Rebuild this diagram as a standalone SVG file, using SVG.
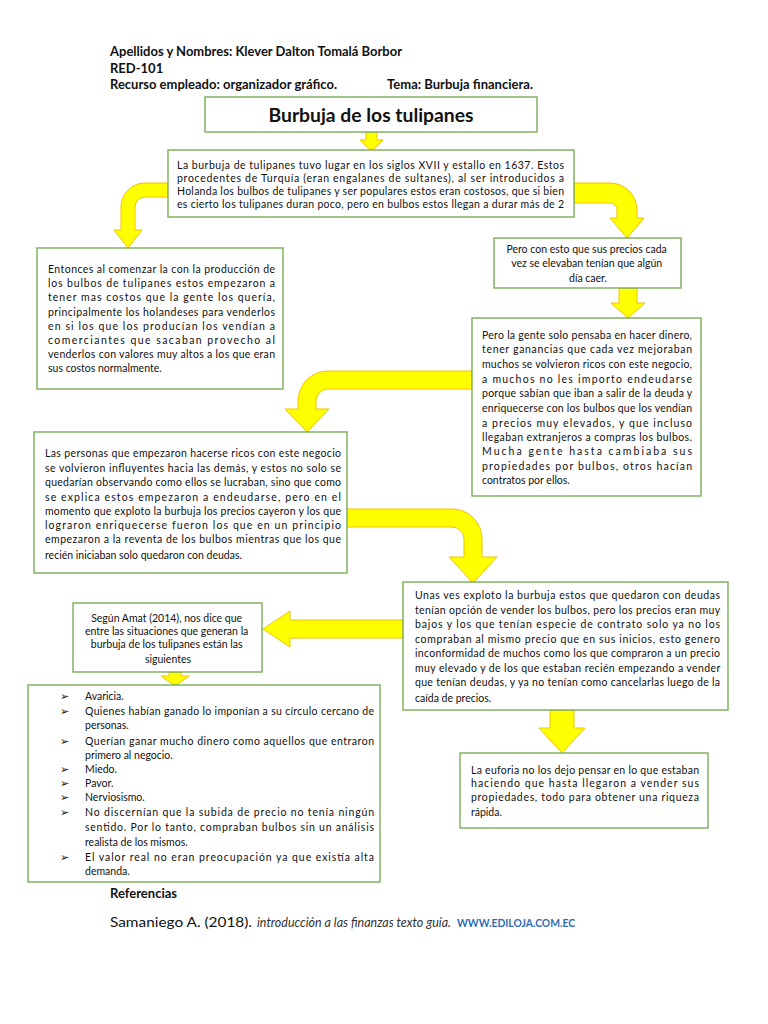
<svg xmlns="http://www.w3.org/2000/svg" width="768" height="1024" viewBox="0 0 768 1024">
<style>
.box{fill:#fff;stroke:#78AD55;stroke-width:1.4}
.arr{fill:#FFFF00;stroke:#F2C200;stroke-width:1}
.t{font-family:Lato,"Open Sans","Liberation Sans",sans-serif;font-size:10.5px;fill:#111}
.c{text-anchor:middle}
.h{font-family:Lato,"Open Sans","Liberation Sans",sans-serif;font-size:13px;font-weight:bold;fill:#111}
</style>
<rect width="768" height="1024" fill="#fff"/>

<g id="header">
<text class="h" x="110" y="56" textLength="292" lengthAdjust="spacingAndGlyphs">Apellidos y Nombres: Klever Dalton Tomalá Borbor</text>
<text class="h" x="110" y="73">RED-101</text>
<text class="h" x="110" y="89" textLength="227" lengthAdjust="spacingAndGlyphs">Recurso empleado: organizador gráfico.</text>
<text class="h" x="387" y="89" textLength="146" lengthAdjust="spacingAndGlyphs">Tema: Burbuja financiera.</text>
</g>

<g id="connectors">
<path class="arr" d="M366,132 L377,132 L377,140 L383,140 L371.5,151 L360,140 L366,140 Z"/>
<path class="arr" d="M168,183 L145,183 A24,24 0 0 0 121,207 L121,230 L114,230 L128,248 L142,230 L135,230 L135,207 A10,10 0 0 1 145,197 L168,197 Z"/>
<path class="arr" d="M574,183 L610,183 A27,27 0 0 1 637,210 L637,218 L644,218 L627,238 L610,218 L617,218 L617,210 A7,7 0 0 0 610,203 L574,203 Z"/>
<path class="arr" d="M619,288 L637,288 L637,303 L645,303 L628,318 L611,303 L619,303 Z"/>
<path class="arr" d="M472,371 L328,371 A30,30 0 0 0 298,401 L298,409 L285,409 L307,432 L329,409 L316,409 L316,401 A12,12 0 0 1 328,389 L472,389 Z"/>
<path class="arr" d="M347,509 L452,509 A30,30 0 0 1 482,539 L482,557 L497,557 L473,583 L449,557 L464,557 L464,539 A12,12 0 0 0 452,527 L347,527 Z"/>
<path class="arr" d="M403,620 L290,620 L290,611 L263,629 L290,647 L290,638 L403,638 Z"/>
<path class="arr" d="M169,672 L181,672 L181,676 L189,676 L175,686 L161,676 L169,676 Z"/>
<path class="arr" d="M550,710 L574,710 L574,728 L585,728 L562,753 L539,728 L550,728 Z"/>
</g>

<g id="title">
<rect class="box" x="205" y="97" width="332" height="35"/>
<text x="371" y="122" text-anchor="middle" font-family="Lato,'Open Sans','Liberation Sans',sans-serif" font-size="18" font-weight="bold" fill="#111" textLength="205" lengthAdjust="spacingAndGlyphs">Burbuja de los tulipanes</text>
</g>

<g id="n-intro">
<rect class="box" x="168" y="150" width="406" height="67"/>
<text class="t" font-size="11">
<tspan x="177" y="169" textLength="387" lengthAdjust="spacing">La burbuja de tulipanes tuvo lugar en los siglos XVII y estallo en 1637.  Estos</tspan>
<tspan x="177" y="182" textLength="387" lengthAdjust="spacing">procedentes de Turquía (eran engalanes de sultanes), al ser introducidos a</tspan>
<tspan x="177" y="195" textLength="387" lengthAdjust="spacing">Holanda los bulbos de tulipanes y ser populares estos eran costosos, que si bien</tspan>
<tspan x="177" y="208" textLength="387" lengthAdjust="spacing">es cierto los tulipanes duran poco, pero en bulbos estos llegan a durar más de 2</tspan>
</text>
</g>

<g id="n-entonces">
<rect class="box" x="37" y="248" width="246" height="141"/>
<text class="t">
<tspan x="48" y="273" textLength="227" lengthAdjust="spacing">Entonces al comenzar la con la producción de</tspan>
<tspan x="48" y="287" textLength="227" lengthAdjust="spacing">los bulbos de tulipanes estos empezaron a</tspan>
<tspan x="48" y="301" textLength="227" lengthAdjust="spacing">tener mas costos que la gente los quería,</tspan>
<tspan x="48" y="316" textLength="227" lengthAdjust="spacing">principalmente los holandeses para venderlos</tspan>
<tspan x="48" y="330" textLength="227" lengthAdjust="spacing">en si los que los producían los vendían a</tspan>
<tspan x="48" y="344" textLength="227" lengthAdjust="spacing">comerciantes que sacaban provecho al</tspan>
<tspan x="48" y="358" textLength="227" lengthAdjust="spacing">venderlos con valores muy altos a los que eran</tspan>
<tspan x="48" y="372">sus costos normalmente.</tspan>
</text>
</g>

<g id="n-pero-precios">
<rect class="box" x="494" y="238" width="187" height="50"/>
<text class="t c">
<tspan x="588" y="253">Pero con esto que sus precios cada</tspan>
<tspan x="588" y="267">vez se elevaban tenían que algún</tspan>
<tspan x="588" y="282">día caer.</tspan>
</text>
</g>

<g id="n-pero-gente">
<rect class="box" x="472" y="318" width="229" height="178"/>
<text class="t">
<tspan x="482" y="339" textLength="210" lengthAdjust="spacing">Pero la gente solo pensaba en hacer dinero,</tspan>
<tspan x="482" y="353" textLength="210" lengthAdjust="spacing">tener ganancias que cada vez mejoraban</tspan>
<tspan x="482" y="368" textLength="210" lengthAdjust="spacing">muchos se volvieron ricos con este negocio,</tspan>
<tspan x="482" y="383" textLength="210" lengthAdjust="spacing">a muchos no les importo endeudarse</tspan>
<tspan x="482" y="397" textLength="210" lengthAdjust="spacing">porque sabían que iban a salir de la deuda y</tspan>
<tspan x="482" y="412" textLength="210" lengthAdjust="spacing">enriquecerse con los bulbos que los vendían</tspan>
<tspan x="482" y="427" textLength="210" lengthAdjust="spacing">a precios muy elevados, y que incluso</tspan>
<tspan x="482" y="441" textLength="210" lengthAdjust="spacing">llegaban extranjeros a compras los bulbos.</tspan>
<tspan x="482" y="455" textLength="210" lengthAdjust="spacing">Mucha gente hasta cambiaba sus</tspan>
<tspan x="482" y="470" textLength="210" lengthAdjust="spacing">propiedades por bulbos, otros hacían</tspan>
<tspan x="482" y="484">contratos por ellos.</tspan>
</text>
</g>

<g id="n-personas">
<rect class="box" x="34" y="432" width="313" height="141"/>
<text class="t">
<tspan x="45" y="457" textLength="296" lengthAdjust="spacing">Las personas que empezaron hacerse ricos con este negocio</tspan>
<tspan x="45" y="472" textLength="296" lengthAdjust="spacing">se volvieron influyentes hacia las demás, y estos no solo se</tspan>
<tspan x="45" y="486" textLength="296" lengthAdjust="spacing">quedarían observando como ellos se lucraban, sino que como</tspan>
<tspan x="45" y="501" textLength="296" lengthAdjust="spacing">se explica estos empezaron a endeudarse, pero en el</tspan>
<tspan x="45" y="515" textLength="296" lengthAdjust="spacing">momento que exploto la burbuja los precios cayeron y los que</tspan>
<tspan x="45" y="529" textLength="296" lengthAdjust="spacing">lograron enriquecerse fueron los que en un principio</tspan>
<tspan x="45" y="543" textLength="296" lengthAdjust="spacing">empezaron a la reventa de los bulbos mientras que los que</tspan>
<tspan x="45" y="559">recién iniciaban solo quedaron con deudas.</tspan>
</text>
</g>

<g id="n-unas-ves">
<rect class="box" x="403" y="582" width="325" height="128"/>
<text class="t">
<tspan x="415" y="599" textLength="305" lengthAdjust="spacing">Unas ves exploto la burbuja estos que quedaron con deudas</tspan>
<tspan x="415" y="614" textLength="305" lengthAdjust="spacing">tenían opción de vender los bulbos, pero los precios eran muy</tspan>
<tspan x="415" y="628" textLength="305" lengthAdjust="spacing">bajos y los que tenían especie de contrato solo ya no los</tspan>
<tspan x="415" y="643" textLength="305" lengthAdjust="spacing">compraban al mismo precio que en sus inicios, esto genero</tspan>
<tspan x="415" y="657" textLength="305" lengthAdjust="spacing">inconformidad de muchos como los que compraron a un precio</tspan>
<tspan x="415" y="672" textLength="305" lengthAdjust="spacing">muy elevado y de los que estaban recién empezando a vender</tspan>
<tspan x="415" y="686" textLength="305" lengthAdjust="spacing">que tenían deudas, y ya no tenían como cancelarlas luego de la</tspan>
<tspan x="415" y="702">caída de precios.</tspan>
</text>
</g>

<g id="n-segun">
<rect class="box" x="73" y="603" width="189" height="69"/>
<text class="t c">
<tspan x="168" y="622">Según Amat (2014), nos dice que</tspan>
<tspan x="168" y="635">entre las situaciones que generan la</tspan>
<tspan x="168" y="648">burbuja de los tulipanes están las</tspan>
<tspan x="168" y="663">siguientes</tspan>
</text>
</g>

<g id="n-lista">
<rect class="box" x="28" y="685" width="352" height="197"/>
<g font-family="'DejaVu Sans',sans-serif" font-size="11" fill="#111">
<text x="60" y="700">➢</text>
<text x="60" y="715">➢</text>
<text x="60" y="745">➢</text>
<text x="60" y="773">➢</text>
<text x="60" y="787">➢</text>
<text x="60" y="801">➢</text>
<text x="60" y="816">➢</text>
<text x="60" y="861">➢</text>
</g>
<text class="t">
<tspan x="85" y="700">Avaricia.</tspan>
<tspan x="85" y="715" textLength="289" lengthAdjust="spacing">Quienes habían ganado lo imponían a su círculo cercano de</tspan>
<tspan x="85" y="729">personas.</tspan>
<tspan x="85" y="745" textLength="289" lengthAdjust="spacing">Querían ganar mucho dinero como aquellos que entraron</tspan>
<tspan x="85" y="759">primero al negocio.</tspan>
<tspan x="85" y="773">Miedo.</tspan>
<tspan x="85" y="787">Pavor.</tspan>
<tspan x="85" y="801">Nerviosismo.</tspan>
<tspan x="85" y="816" textLength="289" lengthAdjust="spacing">No discernían que la subida de precio no tenía ningún</tspan>
<tspan x="85" y="831" textLength="289" lengthAdjust="spacing">sentido. Por lo tanto, compraban bulbos sin un análisis</tspan>
<tspan x="85" y="846">realista de los mismos.</tspan>
<tspan x="85" y="861" textLength="289" lengthAdjust="spacing">El valor real no eran preocupación ya que existía alta</tspan>
<tspan x="85" y="875">demanda.</tspan>
</text>
</g>

<g id="n-euforia">
<rect class="box" x="460" y="753" width="248" height="75"/>
<text class="t">
<tspan x="471" y="774" textLength="228" lengthAdjust="spacing">La euforia no los dejo pensar en lo que estaban</tspan>
<tspan x="471" y="787" textLength="228" lengthAdjust="spacing">haciendo que hasta llegaron a vender sus</tspan>
<tspan x="471" y="801" textLength="228" lengthAdjust="spacing">propiedades, todo para obtener una riqueza</tspan>
<tspan x="471" y="816">rápida.</tspan>
</text>
</g>

<g id="referencias">
<text class="h" x="110" y="898" font-size="12.5">Referencias</text>
<text x="110" y="927" font-family="Lato,'Open Sans','Liberation Sans',sans-serif" font-size="14" fill="#111" textLength="142" lengthAdjust="spacingAndGlyphs">Samaniego A. (2018).</text>
<text x="257" y="927" font-family="Lato,'Open Sans','Liberation Sans',sans-serif" font-size="13.5" font-style="italic" fill="#333" textLength="194" lengthAdjust="spacingAndGlyphs">introducción a las finanzas texto guía.</text>
<text x="457" y="927" font-family="Lato,'Open Sans','Liberation Sans',sans-serif" font-size="10.5" font-weight="bold" fill="#2E6DB4" textLength="118" lengthAdjust="spacingAndGlyphs">WWW.EDILOJA.COM.EC</text>
</g>
</svg>
